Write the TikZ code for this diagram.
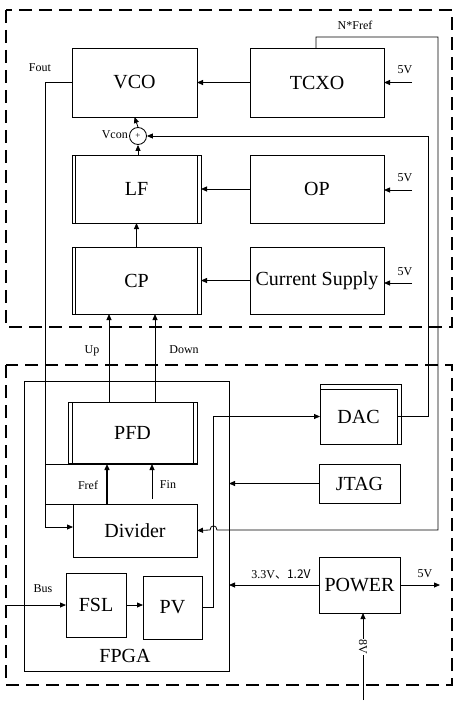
\documentclass[tikz,border=0pt]{standalone}
\usepackage{fontspec}
\setmainfont{Liberation Serif}
\newfontfamily\cjk{Noto Sans CJK SC}
\usetikzlibrary{arrows.meta}
\begin{document}
\begin{tikzpicture}[x=1pt,y=-1pt,
  box/.style={draw,line width=0.8pt,rectangle,inner sep=0pt,outer sep=0pt,font=\fontsize{20}{22}\selectfont},
  lbl/.style={font=\fontsize{12}{13}\selectfont,inner sep=0pt},
  conn/.style={line width=0.8pt},
  arr/.style={line width=0.8pt,-{Triangle[length=6pt,width=5pt]}},
  dashbox/.style={line width=2.2pt,dash pattern=on 13pt off 7pt}]
\useasboundingbox (0,0) rectangle (474,701);
% dashed regions
\draw[dashbox] (6,10) rectangle (452,327);
\draw[dashbox] (6,365) rectangle (452,685);
% FPGA
\node[draw,line width=0.8pt,minimum width=205pt,minimum height=290pt,inner sep=0pt,outer sep=0pt] (fpga) at (126.5,526) {};
\node[font=\fontsize{20}{22}\selectfont,inner sep=0pt] (fpgalbl) at (125,656) {FPGA};
% blocks
\node[box,minimum width=125pt,minimum height=69pt] (vco) at (134.5,82.5) {VCO};
\node[box,minimum width=134pt,minimum height=69pt] (tcxo) at (317,82.5) {TCXO};
\node[box,minimum width=129pt,minimum height=68pt] (lf) at (136.5,189) {LF};
\node[box,minimum width=134pt,minimum height=68pt] (op) at (317,189) {OP};
\node[box,minimum width=129pt,minimum height=67pt] (cp) at (136.5,280.5) {CP};
\node[box,minimum width=134pt,minimum height=67pt] (cs) at (317,280.5) {Current Supply};
\node[box,minimum width=129pt,minimum height=62pt] (pfd) at (132.5,433) {PFD};
\node[box,minimum width=124pt,minimum height=53pt] (div) at (135,530.5) {Divider};
\node[box,minimum width=77pt,minimum height=55pt] (dac) at (358.5,416.5) {DAC};
\node[box,minimum width=81pt,minimum height=39pt] (jtag) at (359.5,483.5) {JTAG};
\node[box,minimum width=81pt,minimum height=56pt] (power) at (359.5,585) {POWER};
\node[box,minimum width=60pt,minimum height=64pt] (fsl) at (96,605) {FSL};
\node[box,minimum width=59pt,minimum height=63pt] (pv) at (172.5,607.5) {PV};
\node[draw,circle,line width=0.8pt,minimum size=17pt,inner sep=0pt,font=\fontsize{9}{9}\selectfont] (sum) at (138,136) {+};
% double edges
\draw[conn] (lf.north west) ++(3.5,0) -- ++(0,68);
\draw[conn] (lf.north east) ++(-3.5,0) -- ++(0,68);
\draw[conn] (cp.north west) ++(3.5,0) -- ++(0,67);
\draw[conn] (cp.north east) ++(-3.5,0) -- ++(0,67);
\draw[conn] (pfd.north west) ++(4.5,0) -- ++(0,62);
\draw[conn] (pfd.north east) ++(-4,0) -- ++(0,62);
\draw[line width=1.6pt] (pfd.south west) -- (pfd.south east);
\draw[conn] (dac.north west) -- ++(0,-5) -- ++(81,0) -- ++(0,60) -- ++(-4,0);
% labels
\node[lbl] (lfout) at (40,68) {Fout};
\node[lbl] (lnf) at (355,25) {N*Fref};
\node[lbl] (l5a) at (405,70) {5V};
\node[lbl] (l5b) at (405,178) {5V};
\node[lbl] (l5c) at (405,272) {5V};
\node[lbl,anchor=east] (lvcon) at (128,135) {Vcon};
\node[lbl] (lup) at (92,351) {Up};
\node[lbl] (ldown) at (184,350) {Down};
\node[lbl] (lfref) at (88,485) {Fref};
\node[lbl] (lfin) at (168,485) {Fin};
\node[lbl] (lbus) at (43,589) {Bus};
\node[lbl] (lvolt) at (281,574) {3.3V\cjk{、}1.2V};
\node[lbl] (l5d) at (425,574) {5V};
% free ends
\coordinate (in5a) at (412,82.5);
\coordinate (in5b) at (412,190);
\coordinate (in5c) at (412,283);
\coordinate (out5) at (440,585);
\coordinate (in8) at (363,700);
\coordinate (busin) at (6,605);
% connectors
\draw[arr] (tcxo.west) -- (vco.east);
\draw[arr] (in5a) -- (tcxo.east);
\draw[arr] (in5b) -- (op.east |- in5b);
\draw[arr] (in5c) -- (cs.east |- in5c);
\draw[arr] (op.west) -- (lf.east);
\draw[arr] (cs.west) -- (cp.east);
\draw[arr] (cp.north) -- (lf.south);
\draw[arr] (sum.north) -- (vco.south);
\draw[arr] (lf.north -| sum) -- (sum.south);
\draw[arr] (dac.east) -- (428,416.5) -- (428,136) -- (sum.east);
\draw[arr] (tcxo.north -| 316,0) -- (316,37) -- (438,37) -- (438,530) -- (217,530) .. controls (217,524.5) and (210,524.5) .. (210,530) -- (div.east);
\draw[arr] (vco.west) -- (45,82.5) -- (45,527) -- (div.west |- 0,527);
\draw[conn] (45,464) -- (pfd.south west);
\draw[conn] (45,504) -- (div.north west);
\draw[arr] (pfd.north -| 109,0) -- (cp.south -| 109,0);
\draw[arr] (pfd.north -| 155,0) -- (cp.south -| 155,0);
\draw[arr,line width=1.4pt] (div.north -| 107,0) -- (pfd.south -| 107,0);
\draw[arr] (152,499) -- (pfd.south -| 152,0);
\draw[arr] (pv.east) -- (213,607.5) -- (213,416.5) -- (dac.west);
\draw[arr] (jtag.west) -- (fpga.east |- jtag.west);
\draw[arr] (power.west) -- (fpga.east |- power.west);
\draw[arr] (power.east) -- (out5);
\draw[arr] (in8) -- (power.south -| in8);
\node[lbl,rotate=-90,fill=white,inner sep=1pt] (l8v) at (363,647) {8V};
\draw[arr] (busin) -- (fsl.west);
\draw[arr] (fsl.east) -- (pv.west |- fsl.east);
\end{tikzpicture}
\end{document}
